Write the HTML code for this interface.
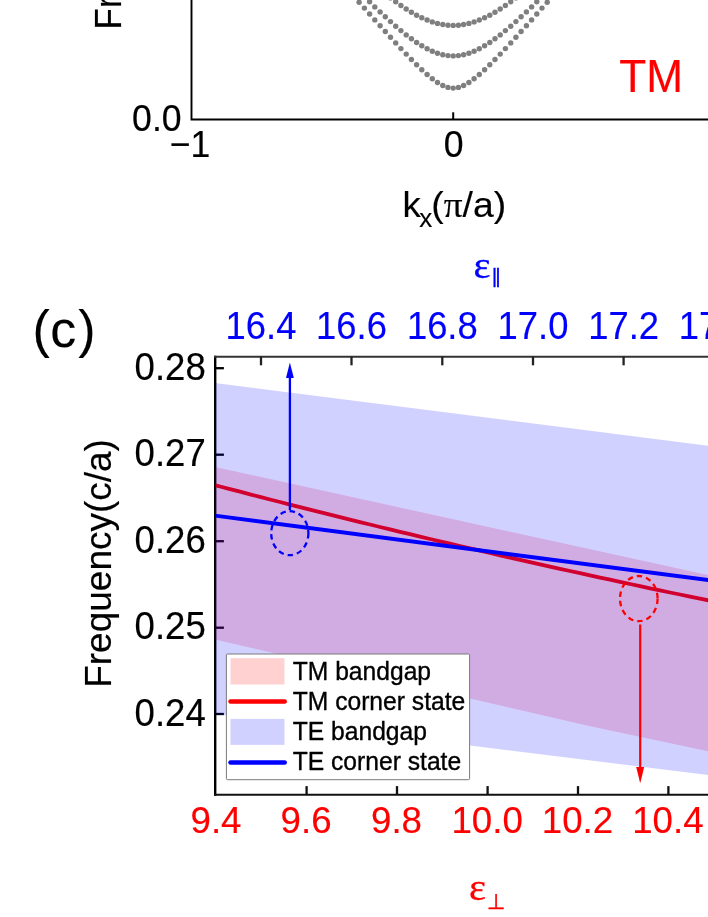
<!DOCTYPE html>
<html lang="en"><head><meta charset="utf-8"><title>Figure (c) Frequency vs permittivity</title>
<style>html,body{margin:0;padding:0;background:#fff;}body{width:708px;height:917px;overflow:hidden;}svg{display:block;}text{font-family:"Liberation Sans",sans-serif;}.sym{font-family:"Liberation Serif",serif;}</style></head><body>
<svg width="708" height="917" viewBox="0 0 708 917">
<rect width="708" height="917" fill="#fff"/>
<g id="top-panel">
<g fill="#7f7f7f">
<circle cx="353.9" cy="-3.8" r="2.7"/>
<circle cx="359.1" cy="2.2" r="2.7"/>
<circle cx="364.4" cy="8.1" r="2.7"/>
<circle cx="369.6" cy="14.0" r="2.7"/>
<circle cx="374.8" cy="19.9" r="2.7"/>
<circle cx="380.1" cy="25.7" r="2.7"/>
<circle cx="385.3" cy="31.5" r="2.7"/>
<circle cx="390.5" cy="37.3" r="2.7"/>
<circle cx="395.7" cy="42.9" r="2.7"/>
<circle cx="400.9" cy="48.6" r="2.7"/>
<circle cx="406.2" cy="54.1" r="2.7"/>
<circle cx="411.4" cy="59.5" r="2.7"/>
<circle cx="416.6" cy="64.7" r="2.7"/>
<circle cx="421.8" cy="69.8" r="2.7"/>
<circle cx="427.1" cy="74.5" r="2.7"/>
<circle cx="432.3" cy="78.8" r="2.7"/>
<circle cx="437.5" cy="82.5" r="2.7"/>
<circle cx="442.8" cy="85.5" r="2.7"/>
<circle cx="448.0" cy="87.4" r="2.7"/>
<circle cx="453.2" cy="88.1" r="2.7"/>
<circle cx="458.4" cy="87.4" r="2.7"/>
<circle cx="463.6" cy="85.5" r="2.7"/>
<circle cx="468.9" cy="82.5" r="2.7"/>
<circle cx="474.1" cy="78.8" r="2.7"/>
<circle cx="479.3" cy="74.5" r="2.7"/>
<circle cx="484.6" cy="69.8" r="2.7"/>
<circle cx="489.8" cy="64.7" r="2.7"/>
<circle cx="495.0" cy="59.5" r="2.7"/>
<circle cx="500.2" cy="54.1" r="2.7"/>
<circle cx="505.4" cy="48.6" r="2.7"/>
<circle cx="510.7" cy="42.9" r="2.7"/>
<circle cx="515.9" cy="37.3" r="2.7"/>
<circle cx="521.1" cy="31.5" r="2.7"/>
<circle cx="526.4" cy="25.7" r="2.7"/>
<circle cx="531.6" cy="19.9" r="2.7"/>
<circle cx="536.8" cy="14.0" r="2.7"/>
<circle cx="542.0" cy="8.1" r="2.7"/>
<circle cx="547.2" cy="2.2" r="2.7"/>
<circle cx="552.5" cy="-3.8" r="2.7"/>
<circle cx="364.4" cy="-3.5" r="2.7"/>
<circle cx="369.6" cy="1.7" r="2.7"/>
<circle cx="374.8" cy="6.9" r="2.7"/>
<circle cx="380.1" cy="11.9" r="2.7"/>
<circle cx="385.3" cy="16.8" r="2.7"/>
<circle cx="390.5" cy="21.6" r="2.7"/>
<circle cx="395.7" cy="26.2" r="2.7"/>
<circle cx="400.9" cy="30.6" r="2.7"/>
<circle cx="406.2" cy="34.9" r="2.7"/>
<circle cx="411.4" cy="38.8" r="2.7"/>
<circle cx="416.6" cy="42.5" r="2.7"/>
<circle cx="421.8" cy="45.8" r="2.7"/>
<circle cx="427.1" cy="48.7" r="2.7"/>
<circle cx="432.3" cy="51.2" r="2.7"/>
<circle cx="437.5" cy="53.2" r="2.7"/>
<circle cx="442.8" cy="54.7" r="2.7"/>
<circle cx="448.0" cy="55.6" r="2.7"/>
<circle cx="453.2" cy="55.9" r="2.7"/>
<circle cx="458.4" cy="55.6" r="2.7"/>
<circle cx="463.6" cy="54.7" r="2.7"/>
<circle cx="468.9" cy="53.2" r="2.7"/>
<circle cx="474.1" cy="51.2" r="2.7"/>
<circle cx="479.3" cy="48.7" r="2.7"/>
<circle cx="484.6" cy="45.8" r="2.7"/>
<circle cx="489.8" cy="42.5" r="2.7"/>
<circle cx="495.0" cy="38.8" r="2.7"/>
<circle cx="500.2" cy="34.9" r="2.7"/>
<circle cx="505.4" cy="30.6" r="2.7"/>
<circle cx="510.7" cy="26.2" r="2.7"/>
<circle cx="515.9" cy="21.6" r="2.7"/>
<circle cx="521.1" cy="16.8" r="2.7"/>
<circle cx="526.4" cy="11.9" r="2.7"/>
<circle cx="531.6" cy="6.9" r="2.7"/>
<circle cx="536.8" cy="1.7" r="2.7"/>
<circle cx="542.0" cy="-3.5" r="2.7"/>
<circle cx="390.5" cy="-2.1" r="2.7"/>
<circle cx="395.7" cy="1.8" r="2.7"/>
<circle cx="400.9" cy="5.5" r="2.7"/>
<circle cx="406.2" cy="9.0" r="2.7"/>
<circle cx="411.4" cy="12.2" r="2.7"/>
<circle cx="416.6" cy="15.2" r="2.7"/>
<circle cx="421.8" cy="17.8" r="2.7"/>
<circle cx="427.1" cy="20.0" r="2.7"/>
<circle cx="432.3" cy="21.9" r="2.7"/>
<circle cx="437.5" cy="23.4" r="2.7"/>
<circle cx="442.8" cy="24.5" r="2.7"/>
<circle cx="448.0" cy="25.2" r="2.7"/>
<circle cx="453.2" cy="25.4" r="2.7"/>
<circle cx="458.4" cy="25.2" r="2.7"/>
<circle cx="463.6" cy="24.5" r="2.7"/>
<circle cx="468.9" cy="23.4" r="2.7"/>
<circle cx="474.1" cy="21.9" r="2.7"/>
<circle cx="479.3" cy="20.0" r="2.7"/>
<circle cx="484.6" cy="17.8" r="2.7"/>
<circle cx="489.8" cy="15.2" r="2.7"/>
<circle cx="495.0" cy="12.2" r="2.7"/>
<circle cx="500.2" cy="9.0" r="2.7"/>
<circle cx="505.4" cy="5.5" r="2.7"/>
<circle cx="510.7" cy="1.8" r="2.7"/>
<circle cx="515.9" cy="-2.1" r="2.7"/>
</g>
<path d="M191.5 0V119.5H708" fill="none" stroke="#000" stroke-width="1.9"/>
<path d="M453.2 119.5V112.3" stroke="#000" stroke-width="2"/>
<text transform="translate(181.6 130.6) scale(1.0 1.05)" font-size="35.6" text-anchor="end" stroke="#000" stroke-width="0.15">0.0</text>
<text transform="translate(190 156.7) scale(1.0 1.05)" font-size="35.6" text-anchor="middle" stroke="#000" stroke-width="0.15">−1</text>
<text transform="translate(453.7 156.7) scale(1.0 1.05)" font-size="35.6" text-anchor="middle" stroke="#000" stroke-width="0.15">0</text>
<text transform="translate(120.9 29.4) rotate(-90) scale(1.0 1.065)" font-size="35" stroke="#000" stroke-width="0.15">Frequency(c/a)</text>
<text transform="translate(619.2 91.5) scale(1.0 1.045)" font-size="44.2" fill="#ff0000" stroke="#ff0000" stroke-width="0.15">TM</text>
<text transform="translate(402.5 217.1) scale(1.0 0.96)" font-size="36.5" stroke="#000" stroke-width="0.15">k</text>
<text transform="translate(419.3 226.6)" font-size="26" stroke="#000" stroke-width="0.15">x</text>
<text transform="translate(431.3 217.1) scale(1.022 0.96)" font-size="36.5" stroke="#000" stroke-width="0.15">(<tspan class="sym">π</tspan>/a)</text>
<text transform="translate(473.5 277.5) scale(1.0 0.92)" font-size="40.5" fill="#0000ff" stroke="#0000ff" stroke-width="0.3" class="sym">ε</text>
<text transform="translate(491.7 286.7) scale(0.84 1.0)" font-size="26" fill="#0000ff" stroke="#0000ff" stroke-width="0.3">‖</text>
</g>
<g id="bottom-panel">
<defs><clipPath id="pc"><rect x="215.39999999999998" y="356.7" width="494.8" height="438.09999999999997"/></clipPath><clipPath id="pl"><rect x="215.6" y="356.7" width="492.8" height="438.09999999999997"/></clipPath></defs>
<path d="M215.2 355.8V795.8" fill="none" stroke="#000" stroke-width="2.4"/>
<path d="M215.2 368.2h8.7" stroke="#000" stroke-width="2.3"/>
<path d="M215.2 454.7h8.7" stroke="#000" stroke-width="2.3"/>
<path d="M215.2 541.2h8.7" stroke="#000" stroke-width="2.3"/>
<path d="M215.2 627.7h8.7" stroke="#000" stroke-width="2.3"/>
<path d="M215.2 714h8.7" stroke="#000" stroke-width="2.3"/>
<g clip-path="url(#pc)">
<polygon points="213,466.6 708,575 708,751.3 588,725.8 213,639" fill="#ff053d" fill-opacity="0.18"/>
<polyline points="210,483.9 220,486.5 230,489.1 240,491.7 250,494.3 260,496.9 270,499.5 280,502.0 290,504.6 300,507.1 310,509.6 320,512.2 330,514.6 340,517.1 350,519.6 360,522.1 370,524.5 380,527.0 390,529.4 400,531.8 410,534.2 420,536.6 430,539.0 440,541.3 450,543.7 460,546.0 470,548.4 480,550.7 490,553.0 500,555.3 510,557.6 520,559.8 530,562.1 540,564.3 550,566.6 560,568.8 570,571.0 580,573.2 590,575.4 600,577.6 610,579.7 620,581.9 630,584.0 640,586.2 650,588.3 660,590.4 670,592.5 680,594.5 690,596.6 700,598.7 710,600.7" fill="none" stroke="#ff0000" stroke-width="3.8" clip-path="url(#pl)"/>
<polygon points="213,382.7 708,445.8 708,775 213,713.8" fill="#0000ff" fill-opacity="0.18"/>
<path d="M210 515 L715 581" stroke="#0000ff" stroke-width="3.9" fill="none" clip-path="url(#pl)"/>
</g>
<path d="M289.9 510V376" stroke="#0000ff" stroke-width="2.3"/>
<path d="M289.9 362.6L293.8 378H286Z" fill="#0000ff"/>
<ellipse cx="289.8" cy="533.2" rx="18.6" ry="22" fill="none" stroke="#0000ff" stroke-width="2.3" stroke-dasharray="5.5 4"/>
<path d="M640.2 624.5V770" stroke="#ff0000" stroke-width="2.2"/>
<path d="M640.2 783.3L644.2 767H636.2Z" fill="#ff0000"/>
<ellipse cx="638.8" cy="598.6" rx="18.8" ry="22.6" fill="none" stroke="#ff0000" stroke-width="2.3" stroke-dasharray="5.5 4"/>
<path d="M708 356.7H214.0" fill="none" stroke="#333" stroke-width="1.9"/>
<path d="M708 794.8H214.0" fill="none" stroke="#111" stroke-width="2"/>
<path d="M261 356.7v8.6" stroke="#222" stroke-width="2.3"/>
<path d="M351.5 356.7v8.6" stroke="#222" stroke-width="2.3"/>
<path d="M442.3 356.7v8.6" stroke="#222" stroke-width="2.3"/>
<path d="M533 356.7v8.6" stroke="#222" stroke-width="2.3"/>
<path d="M623.6 356.7v8.6" stroke="#222" stroke-width="2.3"/>
<path d="M306.6 794.8v-8.7" stroke="#111" stroke-width="2.3"/>
<path d="M397 794.8v-8.7" stroke="#111" stroke-width="2.3"/>
<path d="M487.6 794.8v-8.7" stroke="#111" stroke-width="2.3"/>
<path d="M578 794.8v-8.7" stroke="#111" stroke-width="2.3"/>
<path d="M668.4 794.8v-8.7" stroke="#111" stroke-width="2.3"/>
<text transform="translate(205.8 379.7) scale(1.0 1.045)" font-size="36.6" text-anchor="end" stroke="#000" stroke-width="0.15">0.28</text>
<text transform="translate(205.8 466.2) scale(1.0 1.045)" font-size="36.6" text-anchor="end" stroke="#000" stroke-width="0.15">0.27</text>
<text transform="translate(205.8 552.7) scale(1.0 1.045)" font-size="36.6" text-anchor="end" stroke="#000" stroke-width="0.15">0.26</text>
<text transform="translate(205.8 639.2) scale(1.0 1.045)" font-size="36.6" text-anchor="end" stroke="#000" stroke-width="0.15">0.25</text>
<text transform="translate(205.8 725.5) scale(1.0 1.045)" font-size="36.6" text-anchor="end" stroke="#000" stroke-width="0.15">0.24</text>
<text transform="translate(261 338.7) scale(1.0 1.045)" font-size="36.4" text-anchor="middle" fill="#0000ff" stroke="#0000ff" stroke-width="0.15">16.4</text>
<text transform="translate(351.5 338.7) scale(1.0 1.045)" font-size="36.4" text-anchor="middle" fill="#0000ff" stroke="#0000ff" stroke-width="0.15">16.6</text>
<text transform="translate(442.3 338.7) scale(1.0 1.045)" font-size="36.4" text-anchor="middle" fill="#0000ff" stroke="#0000ff" stroke-width="0.15">16.8</text>
<text transform="translate(533 338.7) scale(1.0 1.045)" font-size="36.4" text-anchor="middle" fill="#0000ff" stroke="#0000ff" stroke-width="0.15">17.0</text>
<text transform="translate(623.6 338.7) scale(1.0 1.045)" font-size="36.4" text-anchor="middle" fill="#0000ff" stroke="#0000ff" stroke-width="0.15">17.2</text>
<text transform="translate(714.2 338.7) scale(1.0 1.045)" font-size="36.4" text-anchor="middle" fill="#0000ff" stroke="#0000ff" stroke-width="0.15">17.4</text>
<text transform="translate(216.0 833.2) scale(1.0 1.03)" font-size="36.7" text-anchor="middle" fill="#ff0000" stroke="#ff0000" stroke-width="0.15">9.4</text>
<text transform="translate(306.1 833.2) scale(1.0 1.03)" font-size="36.7" text-anchor="middle" fill="#ff0000" stroke="#ff0000" stroke-width="0.15">9.6</text>
<text transform="translate(396.5 833.2) scale(1.0 1.03)" font-size="36.7" text-anchor="middle" fill="#ff0000" stroke="#ff0000" stroke-width="0.15">9.8</text>
<text transform="translate(487.1 833.2) scale(1.0 1.03)" font-size="36.7" text-anchor="middle" fill="#ff0000" stroke="#ff0000" stroke-width="0.15">10.0</text>
<text transform="translate(577.5 833.2) scale(1.0 1.03)" font-size="36.7" text-anchor="middle" fill="#ff0000" stroke="#ff0000" stroke-width="0.15">10.2</text>
<text transform="translate(667.9 833.2) scale(1.0 1.03)" font-size="36.7" text-anchor="middle" fill="#ff0000" stroke="#ff0000" stroke-width="0.15">10.4</text>
<text transform="translate(110.6 687.8) rotate(-90) scale(1.0 1.02)" font-size="37" stroke="#000" stroke-width="0.15">Frequency(c/a)</text>
<text x="32.5 50.3 78.3" y="346.5" font-size="52" stroke="#000" stroke-width="0.1">(c)</text>
<text transform="translate(469 899.8) scale(1.0 0.94)" font-size="40.5" fill="#ff0000" stroke="#ff0000" stroke-width="0.3" class="sym">ε</text>
<text transform="translate(486.6 908.6)" font-size="21.3" fill="#ff0000" stroke="#ff0000" stroke-width="0.5">⊥</text>
<rect x="226.4" y="654" width="243.2" height="125.7" rx="1" fill="#fff" stroke="#7a7a7a" stroke-width="1"/>
<rect x="230.5" y="658.2" width="54" height="26.3" fill="#ff0000" fill-opacity="0.18"/>
<path d="M230.5 701.4H284.7" stroke="#ff0000" stroke-width="4.5" stroke-linecap="round"/>
<rect x="230.5" y="718.9" width="54" height="26" fill="#0000ff" fill-opacity="0.18"/>
<path d="M230.5 762.4H284.7" stroke="#0000ff" stroke-width="4.5" stroke-linecap="round"/>
<text transform="translate(292.7 679.6) scale(1.0 1.035)" font-size="24.65" stroke="#000" stroke-width="0.35">TM bandgap</text>
<text transform="translate(292.7 709.8) scale(1.0 1.035)" font-size="24.65" stroke="#000" stroke-width="0.35">TM corner state</text>
<text transform="translate(292.7 740.1) scale(1.0 1.035)" font-size="24.65" stroke="#000" stroke-width="0.35">TE bandgap</text>
<text transform="translate(292.7 770.2) scale(1.0 1.035)" font-size="24.65" stroke="#000" stroke-width="0.35">TE corner state</text>
</g>
</svg></body></html>
